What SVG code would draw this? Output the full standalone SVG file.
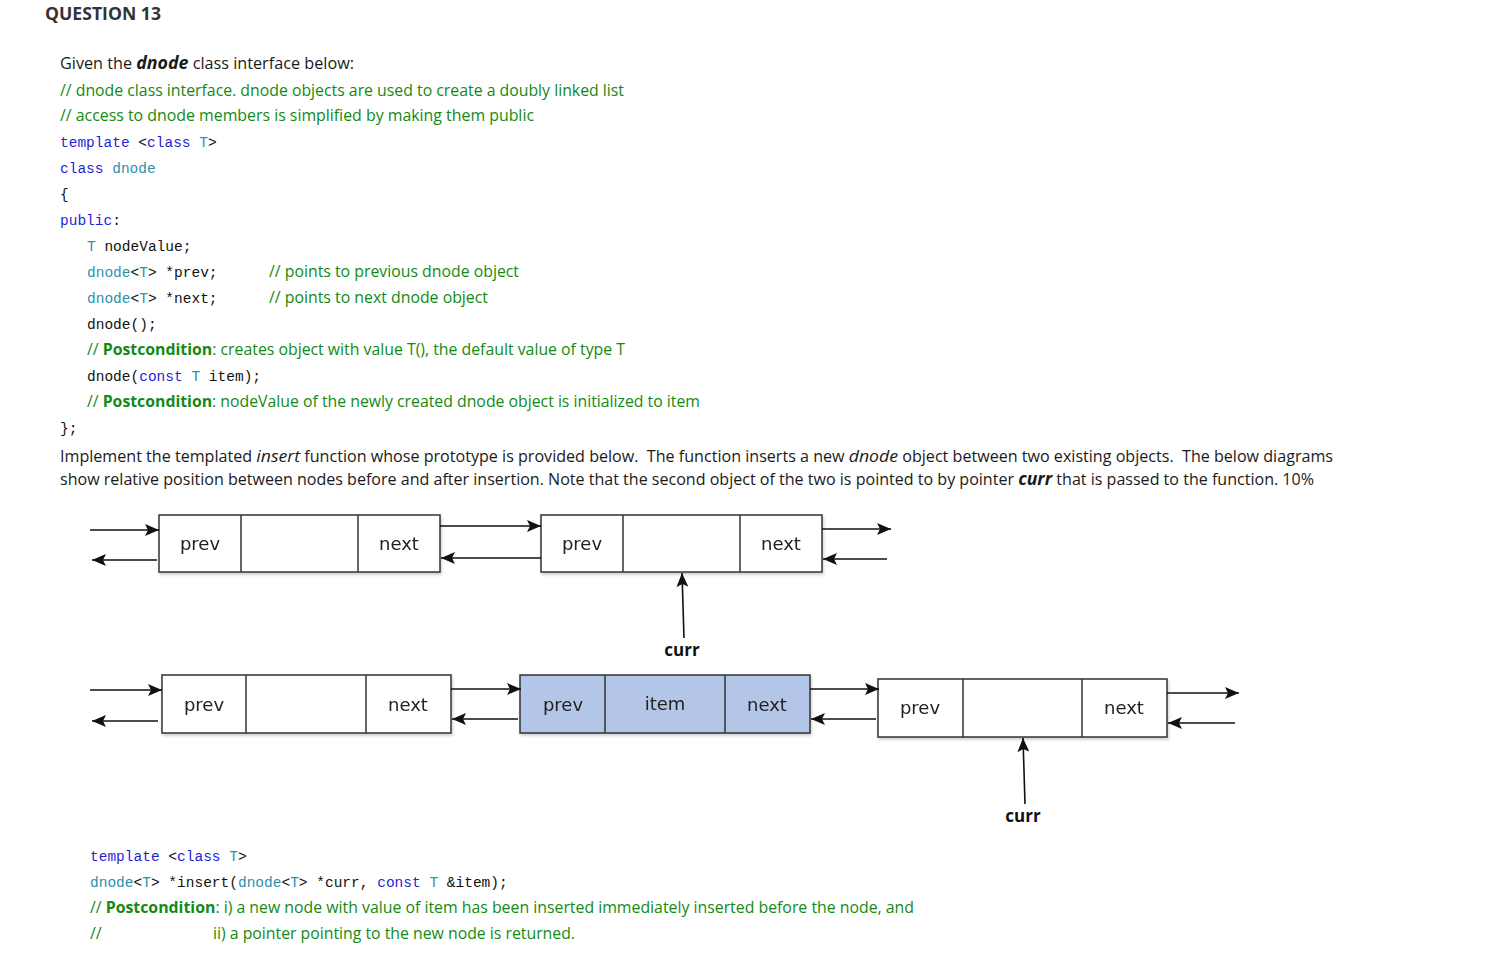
<svg xmlns="http://www.w3.org/2000/svg" width="1492" height="964" viewBox="0 0 1492 964">
<defs>
<style>
.h{font-family:"Open Sans","Liberation Sans",sans-serif;font-weight:bold;font-size:17px;fill:#333}
.b{font-family:"Open Sans","Liberation Sans",sans-serif;font-size:15.5px;fill:#1a1a1a;white-space:pre}
.c{font-family:"Open Sans","Liberation Sans",sans-serif;font-size:16px;fill:#138a13;white-space:pre}
.m{font-family:"Liberation Mono","DejaVu Sans Mono",monospace;font-size:14.5px;fill:#111;white-space:pre}
.kw{fill:#1f1fd6}
.ty{fill:#2b91af}
.bi{font-weight:bold;font-style:italic}
.it{font-style:italic}
.bd{font-weight:bold}
.box{fill:#fff;stroke:#333;stroke-width:1.5}
.blue{fill:#b4c6e7;stroke:#333;stroke-width:1.5}
.div{stroke:#333;stroke-width:1.5}
.lbl{font-family:"DejaVu Sans","Verdana",sans-serif;font-size:18px;fill:#222;text-anchor:middle}
.cur{font-family:"Open Sans","Liberation Sans",sans-serif;font-weight:bold;font-size:17px;fill:#111;text-anchor:middle}
.ln{stroke:#111;stroke-width:1.6;fill:none;marker-end:url(#ah)}
</style>
<marker id="ah" viewBox="0 0 14 12" refX="14" refY="6" markerWidth="14" markerHeight="12" markerUnits="userSpaceOnUse" orient="auto">
<path d="M0,0 L14,6 L0,12 L3,6 Z" fill="#111"/>
</marker>
<filter id="sh" x="-5%" y="-10%" width="110%" height="130%">
<feDropShadow dx="1" dy="2" stdDeviation="1.5" flood-color="#000" flood-opacity="0.2"/>
</filter>
</defs>

<g id="text">
<text class="h" x="45" y="20" textLength="116" lengthAdjust="spacingAndGlyphs">QUESTION 13</text>
<text class="b" x="60" y="69" textLength="294" lengthAdjust="spacingAndGlyphs">Given the <tspan class="bi" font-size="17px">dnode</tspan> class interface below:</text>
<text class="c" x="60" y="96" textLength="564" lengthAdjust="spacingAndGlyphs">// dnode class interface. dnode objects are used to create a doubly linked list</text>
<text class="c" x="60" y="121" textLength="474" lengthAdjust="spacingAndGlyphs">// access to dnode members is simplified by making them public</text>
<text class="m" x="60" y="147"><tspan class="kw">template</tspan> &lt;<tspan class="kw">class</tspan> <tspan class="ty">T</tspan>&gt;</text>
<text class="m" x="60" y="173"><tspan class="kw">class</tspan> <tspan class="ty">dnode</tspan></text>
<text class="m" x="60" y="199">{</text>
<text class="m" x="60" y="225"><tspan class="kw">public</tspan>:</text>
<text class="m" x="87" y="251"><tspan class="ty">T</tspan> nodeValue;</text>
<text class="m" x="87" y="277"><tspan class="ty">dnode</tspan>&lt;<tspan class="ty">T</tspan>&gt; *prev;</text>
<text class="c" x="269" y="277" textLength="250" lengthAdjust="spacingAndGlyphs">// points to previous dnode object</text>
<text class="m" x="87" y="303"><tspan class="ty">dnode</tspan>&lt;<tspan class="ty">T</tspan>&gt; *next;</text>
<text class="c" x="269" y="303" textLength="219" lengthAdjust="spacingAndGlyphs">// points to next dnode object</text>
<text class="m" x="87" y="329">dnode();</text>
<text class="c" x="87" y="355" textLength="538" lengthAdjust="spacingAndGlyphs">// <tspan class="bd">Postcondition</tspan>: creates object with value T(), the default value of type T</text>
<text class="m" x="87" y="381">dnode(<tspan class="kw">const</tspan> <tspan class="ty">T</tspan> item);</text>
<text class="c" x="87" y="407" textLength="613" lengthAdjust="spacingAndGlyphs">// <tspan class="bd">Postcondition</tspan>: nodeValue of the newly created dnode object is initialized to item</text>
<text class="m" x="60" y="433">};</text>
<text class="b" x="60" y="462" textLength="1273" lengthAdjust="spacingAndGlyphs">Implement the templated <tspan class="it" font-size="17px">insert</tspan> function whose prototype is provided below.  The function inserts a new <tspan class="it" font-size="17px">dnode</tspan> object between two existing objects.  The below diagrams</text>
<text class="b" x="60" y="485" textLength="1254" lengthAdjust="spacingAndGlyphs">show relative position between nodes before and after insertion. Note that the second object of the two is pointed to by pointer <tspan class="bi" font-size="17px">curr</tspan> that is passed to the function. 10%</text>
<text class="m" x="90" y="861"><tspan class="kw">template</tspan> &lt;<tspan class="kw">class</tspan> <tspan class="ty">T</tspan>&gt;</text>
<text class="m" x="90" y="887"><tspan class="ty">dnode</tspan>&lt;<tspan class="ty">T</tspan>&gt; *insert(<tspan class="ty">dnode</tspan>&lt;<tspan class="ty">T</tspan>&gt; *curr, <tspan class="kw">const</tspan> <tspan class="ty">T</tspan> &amp;item);</text>
<text class="c" x="90" y="913" textLength="824" lengthAdjust="spacingAndGlyphs">// <tspan class="bd">Postcondition</tspan>: i) a new node with value of item has been inserted immediately inserted before the node, and</text>
<text class="c" x="90" y="939">//</text>
<text class="c" x="213" y="939" textLength="362" lengthAdjust="spacingAndGlyphs">ii) a pointer pointing to the new node is returned.</text>
</g>

<g id="top-node-1" filter="url(#sh)">
<rect class="box" x="159" y="515" width="281" height="57"/>
<line class="div" x1="241" y1="515" x2="241" y2="572"/>
<line class="div" x1="358" y1="515" x2="358" y2="572"/>
<text class="lbl" x="200" y="550">prev</text>
<text class="lbl" x="399" y="550">next</text>
</g>
<g id="top-node-2" filter="url(#sh)">
<rect class="box" x="541" y="515" width="281" height="57"/>
<line class="div" x1="623" y1="515" x2="623" y2="572"/>
<line class="div" x1="740" y1="515" x2="740" y2="572"/>
<text class="lbl" x="582" y="550">prev</text>
<text class="lbl" x="781" y="550">next</text>
</g>
<g id="top-curr">
<text class="cur" x="682" y="656">curr</text>
</g>

<g id="bot-node-1" filter="url(#sh)">
<rect class="box" x="162" y="675" width="289" height="58"/>
<line class="div" x1="246" y1="675" x2="246" y2="733"/>
<line class="div" x1="366" y1="675" x2="366" y2="733"/>
<text class="lbl" x="204" y="711">prev</text>
<text class="lbl" x="408" y="711">next</text>
</g>
<g id="bot-node-new" filter="url(#sh)">
<rect class="blue" x="520" y="675" width="290" height="58"/>
<line class="div" x1="605" y1="675" x2="605" y2="733"/>
<line class="div" x1="725" y1="675" x2="725" y2="733"/>
<text class="lbl" x="563" y="711">prev</text>
<text class="lbl" x="665" y="710" font-size="15.5px">item</text>
<text class="lbl" x="767" y="711">next</text>
</g>
<g id="bot-node-3" filter="url(#sh)">
<rect class="box" x="878" y="679" width="289" height="58"/>
<line class="div" x1="963" y1="679" x2="963" y2="737"/>
<line class="div" x1="1082" y1="679" x2="1082" y2="737"/>
<text class="lbl" x="920" y="714">prev</text>
<text class="lbl" x="1124" y="714">next</text>
</g>
<g id="bot-curr">
<text class="cur" x="1023" y="822">curr</text>
</g>

<g id="connectors">
<line class="ln" x1="90" y1="530" x2="159" y2="530"/>
<line class="ln" x1="157" y1="560" x2="92" y2="560"/>
<line class="ln" x1="440" y1="526" x2="541" y2="526"/>
<line class="ln" x1="541" y1="558" x2="441" y2="558"/>
<line class="ln" x1="822" y1="529" x2="891" y2="529"/>
<line class="ln" x1="887" y1="559" x2="823" y2="559"/>
<line class="ln" x1="684" y1="638" x2="682" y2="573"/>

<line class="ln" x1="90" y1="690" x2="162" y2="690"/>
<line class="ln" x1="158" y1="721" x2="92" y2="721"/>
<line class="ln" x1="451" y1="689" x2="521" y2="689"/>
<line class="ln" x1="518" y1="719" x2="452" y2="719"/>
<line class="ln" x1="810" y1="689" x2="879" y2="689"/>
<line class="ln" x1="876" y1="719" x2="811" y2="719"/>
<line class="ln" x1="1167" y1="693" x2="1239" y2="693"/>
<line class="ln" x1="1235" y1="723" x2="1168" y2="723"/>
<line class="ln" x1="1025" y1="804" x2="1023" y2="738"/>
</g>
</svg>
